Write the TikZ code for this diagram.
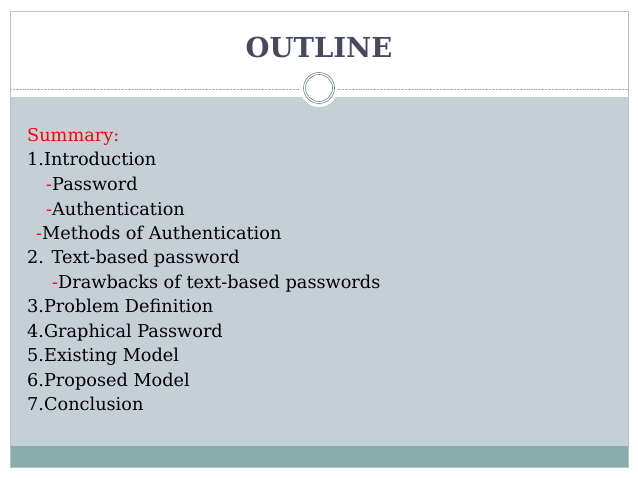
\documentclass[tikz,border=0pt]{standalone}
\usepackage{fontspec}
\setmainfont{DejaVu Serif}
\begin{document}
\begin{tikzpicture}[x=1pt,y=-1pt,
  item/.style={anchor=base west,inner sep=0pt,font=\fontsize{17.7}{20}\selectfont}]
\definecolor{bandgrey}{HTML}{C5D0D6}
\definecolor{teal}{HTML}{8AACAC}
\definecolor{titlec}{HTML}{464A5F}
\definecolor{framec}{HTML}{B0C4C4}
\useasboundingbox (0,0) rectangle (638,478);
\fill[white] (0,0) rectangle (638,478);
\fill[bandgrey] (10,97) rectangle (628,446);
\fill[teal] (10,446) rectangle (628,467);
\draw[framec] (10,11) rectangle (628,467);
\draw[gray!60,densely dotted] (10,89) -- (628,89);
\fill[white] (319,88) circle (19);
\draw[teal!80!black,line width=0.6pt] (319,88) circle (15.5);
\draw[teal!80!black,line width=0.6pt] (319,88) circle (13.5);
\node[anchor=base,inner sep=0pt,text=titlec,font=\fontsize{27.5}{30}\selectfont\bfseries] (title) at (319,58) {OUTLINE};
\node[item,text=red] (s) at (27,142) {Summary:};
\node[item] (l1) at (27,166) {1.Introduction};
\node[item] (l2) at (46,191) {\textcolor{red}{-}Password};
\node[item] (l3) at (46,216) {\textcolor{red}{-}Authentication};
\node[item] (l4) at (36,240) {\textcolor{red}{-}Methods of Authentication};
\node[item] (l5) at (27,264) {2. Text-based password};
\node[item] (l6) at (52,289) {\textcolor{red}{-}Drawbacks of text-based passwords};
\node[item] (l7) at (27,313) {3.Problem Definition};
\node[item] (l8) at (27,338) {4.Graphical Password};
\node[item] (l9) at (27,362) {5.Existing Model};
\node[item] (l10) at (27,387) {6.Proposed Model};
\node[item] (l11) at (27,411) {7.Conclusion};
\end{tikzpicture}
\end{document}
